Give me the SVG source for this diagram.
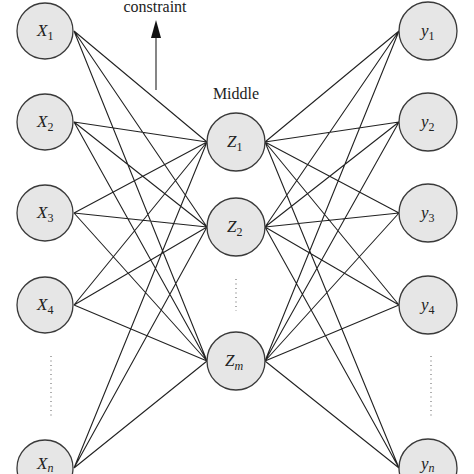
<svg xmlns="http://www.w3.org/2000/svg" width="474" height="474" viewBox="0 0 474 474">
<defs>
<style>
.n{fill:#e6e6e6;stroke:#3a3a3a;stroke-width:1.3}
.t{font-family:"Liberation Serif",serif;font-size:17px;fill:#222;font-style:italic}
.s{font-size:12px;font-style:normal}
.si{font-size:12px;font-style:italic}
.e{stroke:#222;stroke-width:1.1;fill:none}
.d{stroke:#777;stroke-width:1.2;stroke-dasharray:1 3.5;fill:none}
.l{font-family:"Liberation Serif",serif;font-size:16px;fill:#222}
</style>
</defs>
<g id="connectors">
<path class="e" d="M74,31L207,142M74,31L207,227M74,31L207,361M74,122L207,142M74,122L207,227M74,122L207,361M74,213L207,142M74,213L207,227M74,213L207,361M74,305L207,142M74,305L207,227M74,305L207,361M74,468L207,142M74,468L207,227M74,468L207,361"/>
<path class="e" d="M265,142L399,31M265,142L399,122M265,142L399,213M265,142L399,305M265,142L399,468M265,227L399,31M265,227L399,122M265,227L399,213M265,227L399,305M265,227L399,468M265,361L399,31M265,361L399,122M265,361L399,213M265,361L399,305M265,361L399,468"/>
</g>
<g id="constraint">
<line x1="156" y1="90" x2="156" y2="37" stroke="#444" stroke-width="1.3"/>
<path d="M151,38 L156,20 L161,38 Z" fill="#111"/>
<text class="l" x="155" y="12" text-anchor="middle">constraint</text>
</g>
<text id="middle" class="l" x="236" y="99" text-anchor="middle">Middle</text>
<g id="x1"><circle class="n" cx="45" cy="31" r="28"/><text class="t" x="37" y="36">X<tspan class="s" dy="4">1</tspan></text></g>
<g id="x2"><circle class="n" cx="45" cy="122" r="28"/><text class="t" x="37" y="127">X<tspan class="s" dy="4">2</tspan></text></g>
<g id="x3"><circle class="n" cx="45" cy="213" r="28"/><text class="t" x="37" y="218">X<tspan class="s" dy="4">3</tspan></text></g>
<g id="x4"><circle class="n" cx="45" cy="305" r="28"/><text class="t" x="37" y="310">X<tspan class="s" dy="4">4</tspan></text></g>
<line class="d" x1="51" y1="356" x2="51" y2="418"/>
<g id="xn"><circle class="n" cx="45" cy="468" r="28"/><text class="t" x="37" y="469">X<tspan class="si" dy="3">n</tspan></text></g>
<g id="z1"><circle class="n" cx="236" cy="142" r="29"/><text class="t" x="227" y="147">Z<tspan class="s" dy="4">1</tspan></text></g>
<g id="z2"><circle class="n" cx="236" cy="227" r="29"/><text class="t" x="227" y="232">Z<tspan class="s" dy="4">2</tspan></text></g>
<line class="d" x1="236" y1="279" x2="236" y2="311"/>
<g id="zm"><circle class="n" cx="236" cy="361" r="29"/><text class="t" x="225" y="366">Z<tspan class="si" dy="4">m</tspan></text></g>
<g id="y1"><circle class="n" cx="428" cy="31" r="29"/><text class="t" x="421" y="36">y<tspan class="s" dy="4">1</tspan></text></g>
<g id="y2"><circle class="n" cx="428" cy="122" r="29"/><text class="t" x="421" y="127">y<tspan class="s" dy="4">2</tspan></text></g>
<g id="y3"><circle class="n" cx="428" cy="213" r="29"/><text class="t" x="421" y="218">y<tspan class="s" dy="4">3</tspan></text></g>
<g id="y4"><circle class="n" cx="428" cy="305" r="29"/><text class="t" x="421" y="310">y<tspan class="s" dy="4">4</tspan></text></g>
<line class="d" x1="431" y1="356" x2="431" y2="418"/>
<g id="yn"><circle class="n" cx="428" cy="468" r="29"/><text class="t" x="421" y="469">y<tspan class="si" dy="3">n</tspan></text></g>
</svg>
